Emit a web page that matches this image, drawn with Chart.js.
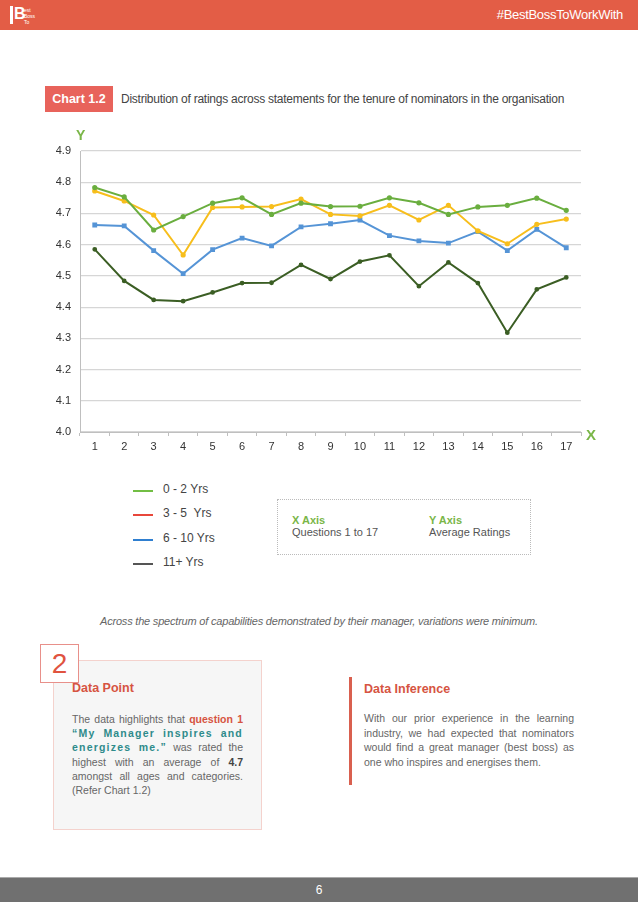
<!DOCTYPE html>
<html>
<head>
<meta charset="utf-8">
<script src="https://cdn.jsdelivr.net/npm/chart.js@4.4.1/dist/chart.umd.min.js"></script>
<style>
  html,body{margin:0;padding:0;background:#fff;}
  body{width:638px;height:902px;position:relative;overflow:hidden;font-family:"Liberation Sans",Arial,sans-serif;color:#555;}
  .abs{position:absolute;}
  #header{left:0;top:0;width:638px;height:30px;background:#E35D46;}
  #hashtag{right:15px;top:7px;color:#fff;font-size:13px;letter-spacing:-0.3px;}
  #logo{left:10px;top:4px;width:24px;height:22px;color:#fff;}
  #badge{left:45px;top:86px;width:68px;height:26px;background:#E8635B;color:#fff;font-weight:bold;font-size:12.5px;line-height:26px;text-align:center;}
  #title{left:121px;top:92px;font-size:12px;color:#444;letter-spacing:-0.25px;white-space:nowrap;}
  #chartWrap{left:40px;top:125px;width:560px;height:340px;}
  #ylab{left:76px;top:127px;color:#7AB648;font-weight:bold;font-size:14px;}
  #xlab{left:586px;top:426px;color:#7AB648;font-weight:bold;font-size:15px;}
  .lg{left:133px;width:20px;height:2px;}
  .lgt{left:163px;font-size:12px;color:#444;white-space:nowrap;}
  #axbox{left:277px;top:499px;width:252px;height:54px;border:1px dotted #bbb;}
  .axh{font-weight:bold;color:#7AB648;font-size:11px;}
  .axs{color:#555;font-size:11px;}
  #caption{left:0;width:638px;top:615px;text-align:center;font-style:italic;font-size:11px;color:#666;letter-spacing:-0.2px;}
  #num2{left:40px;top:644px;width:37px;height:37px;border:1px solid #E8908A;color:#E0533F;font-size:28px;line-height:37px;text-align:center;background:#fff;z-index:2;}
  #dpbox{left:53px;top:660px;width:207px;height:168px;background:#F6F6F6;border:1px solid #F4D2CD;}
  #dph{left:72px;top:681px;color:#D65442;font-weight:bold;font-size:12.5px;}
  #dpt{left:72px;top:712px;width:171px;font-size:10.5px;line-height:14.2px;text-align:justify;color:#666;}
  #dpt .r{color:#D65442;font-weight:bold;}
  #dpt .t{color:#2E8B8B;font-weight:bold;letter-spacing:1.2px;}
  #dpt .b{color:#444;font-weight:bold;}
  #bar{left:349px;top:677px;width:3px;height:108px;background:#D9604F;}
  #dih{left:364px;top:682px;color:#D65442;font-weight:bold;font-size:12.5px;}
  #dit{left:364px;top:711px;width:210px;font-size:10.5px;line-height:14.6px;text-align:justify;color:#666;}
  #footer{left:0;top:877px;width:638px;height:25px;background:#707070;border-top:1px solid #aaa;color:#fff;font-size:12px;text-align:center;line-height:25px;}
</style>
</head>
<body>
<div id="header" class="abs"></div>
<div id="logo" class="abs">
  <div style="position:absolute;left:0;top:2px;width:3px;height:18px;background:#fff;"></div>
  <div style="position:absolute;left:4px;top:0;font-weight:bold;font-size:16px;line-height:20px;">B</div>
  <div style="position:absolute;left:14px;top:3px;font-size:5px;line-height:6px;">est<br>Boss<br>To</div>
</div>
<div id="hashtag" class="abs">#BestBossToWorkWith</div>

<div id="badge" class="abs">Chart 1.2</div>
<div id="title" class="abs">Distribution of ratings across statements for the tenure of nominators in the organisation</div>

<div id="chartWrap" class="abs"><canvas id="c" width="560" height="340"></canvas></div>
<div id="ylab" class="abs">Y</div>
<div id="xlab" class="abs">X</div>

<div class="abs lg" style="top:490px;background:#72BE44;"></div>
<div class="abs lgt" style="top:482px;">0 - 2 Yrs</div>
<div class="abs lg" style="top:514px;background:#E8473B;"></div>
<div class="abs lgt" style="top:506px;">3 - 5&nbsp; Yrs</div>
<div class="abs lg" style="top:539px;background:#2F7FD0;"></div>
<div class="abs lgt" style="top:531px;">6 - 10 Yrs</div>
<div class="abs lg" style="top:563px;background:#555;"></div>
<div class="abs lgt" style="top:555px;">11+ Yrs</div>

<div id="axbox" class="abs"></div>
<div class="abs axh" style="left:292px;top:514px;">X Axis</div>
<div class="abs axs" style="left:292px;top:526px;">Questions 1 to 17</div>
<div class="abs axh" style="left:429px;top:514px;">Y Axis</div>
<div class="abs axs" style="left:429px;top:526px;">Average Ratings</div>

<div id="caption" class="abs">Across the spectrum of capabilities demonstrated by their manager, variations were minimum.</div>

<div id="num2" class="abs">2</div>
<div id="dpbox" class="abs"></div>
<div id="dph" class="abs">Data Point</div>
<div id="dpt" class="abs">The data highlights that <span class="r">question 1</span> <span class="t">“My Manager inspires and energizes me.”</span> was rated the highest with an average of <span class="b">4.7</span> amongst all ages and categories. (Refer Chart 1.2)</div>

<div id="bar" class="abs"></div>
<div id="dih" class="abs">Data Inference</div>
<div id="dit" class="abs">With our prior experience in the learning industry, we had expected that nominators would find a great manager (best boss) as one who inspires and energises them.</div>

<div id="footer" class="abs">6</div>

<script>
const questions = ["1","2","3","4","5","6","7","8","9","10","11","12","13","14","15","16","17"];
const yrs0to2  = [4.783,4.753,4.647,4.690,4.733,4.750,4.697,4.733,4.722,4.723,4.750,4.734,4.697,4.721,4.726,4.749,4.710];
const yrs3to5  = [4.772,4.740,4.695,4.567,4.719,4.721,4.722,4.746,4.697,4.692,4.726,4.679,4.726,4.644,4.603,4.665,4.682];
const yrs6to10 = [4.663,4.660,4.581,4.507,4.584,4.621,4.596,4.657,4.667,4.679,4.629,4.612,4.605,4.642,4.581,4.649,4.590];
const yrs11plus= [4.585,4.484,4.423,4.419,4.447,4.477,4.478,4.535,4.490,4.546,4.566,4.467,4.543,4.477,4.318,4.457,4.495];
const seriesNames = ["0 - 2 Yrs","3 - 5 Yrs","6 - 10 Yrs","11+ Yrs"];
const yTicks = [4.0,4.1,4.2,4.3,4.4,4.5,4.6,4.7,4.8,4.9];

const mk = (label, data, color, style, r) => ({
  label, data, borderColor: color, backgroundColor: color,
  borderWidth: 2, pointRadius: r, pointStyle: style, pointHoverRadius: r, tension: 0
});

new Chart(document.getElementById('c'), {
  type: 'line',
  data: {
    labels: questions,
    datasets: [
      mk(seriesNames[0], yrs0to2, '#6AAE3F', 'circle', 1.6),
      mk(seriesNames[1], yrs3to5, '#F7BE1C', 'circle', 1.6),
      mk(seriesNames[2], yrs6to10, '#5594D6', 'rect', 2),
      mk(seriesNames[3], yrs11plus, '#3B5E24', 'circle', 1.4)
    ]
  },
  options: {
    responsive: false,
    animation: false,
    layout: { padding: { top: 26, right: 19, left: 0, bottom: 0 } },
    plugins: { legend: { display: false }, tooltip: { enabled: false } },
    scales: {
      x: {
        offset: true,
        grid: { offset: true, drawOnChartArea: false, drawTicks: true, tickLength: 4, color: '#BFBFBF' },
        border: { display: true, color: '#BFBFBF', width: 1 },
        ticks: { color: '#333', font: { family: 'Liberation Sans', size: 11 }, padding: 4, maxRotation: 0, autoSkip: false },
        afterFit: s => { s.height = 33; }
      },
      y: {
        min: 4.0, max: 4.9,
        afterBuildTicks: s => { s.ticks = yTicks.map(v => ({ value: v })); },
        grid: { color: '#D6D6D6', lineWidth: 1.2, drawTicks: false },
        border: { display: true, color: '#BFBFBF', width: 1 },
        ticks: { color: '#333', font: { family: 'Liberation Sans', size: 11 }, padding: 9, callback: v => Number(v).toFixed(1) },
        afterFit: s => { s.width = 40; }
      }
    }
  }
});
</script>
</body>
</html>
